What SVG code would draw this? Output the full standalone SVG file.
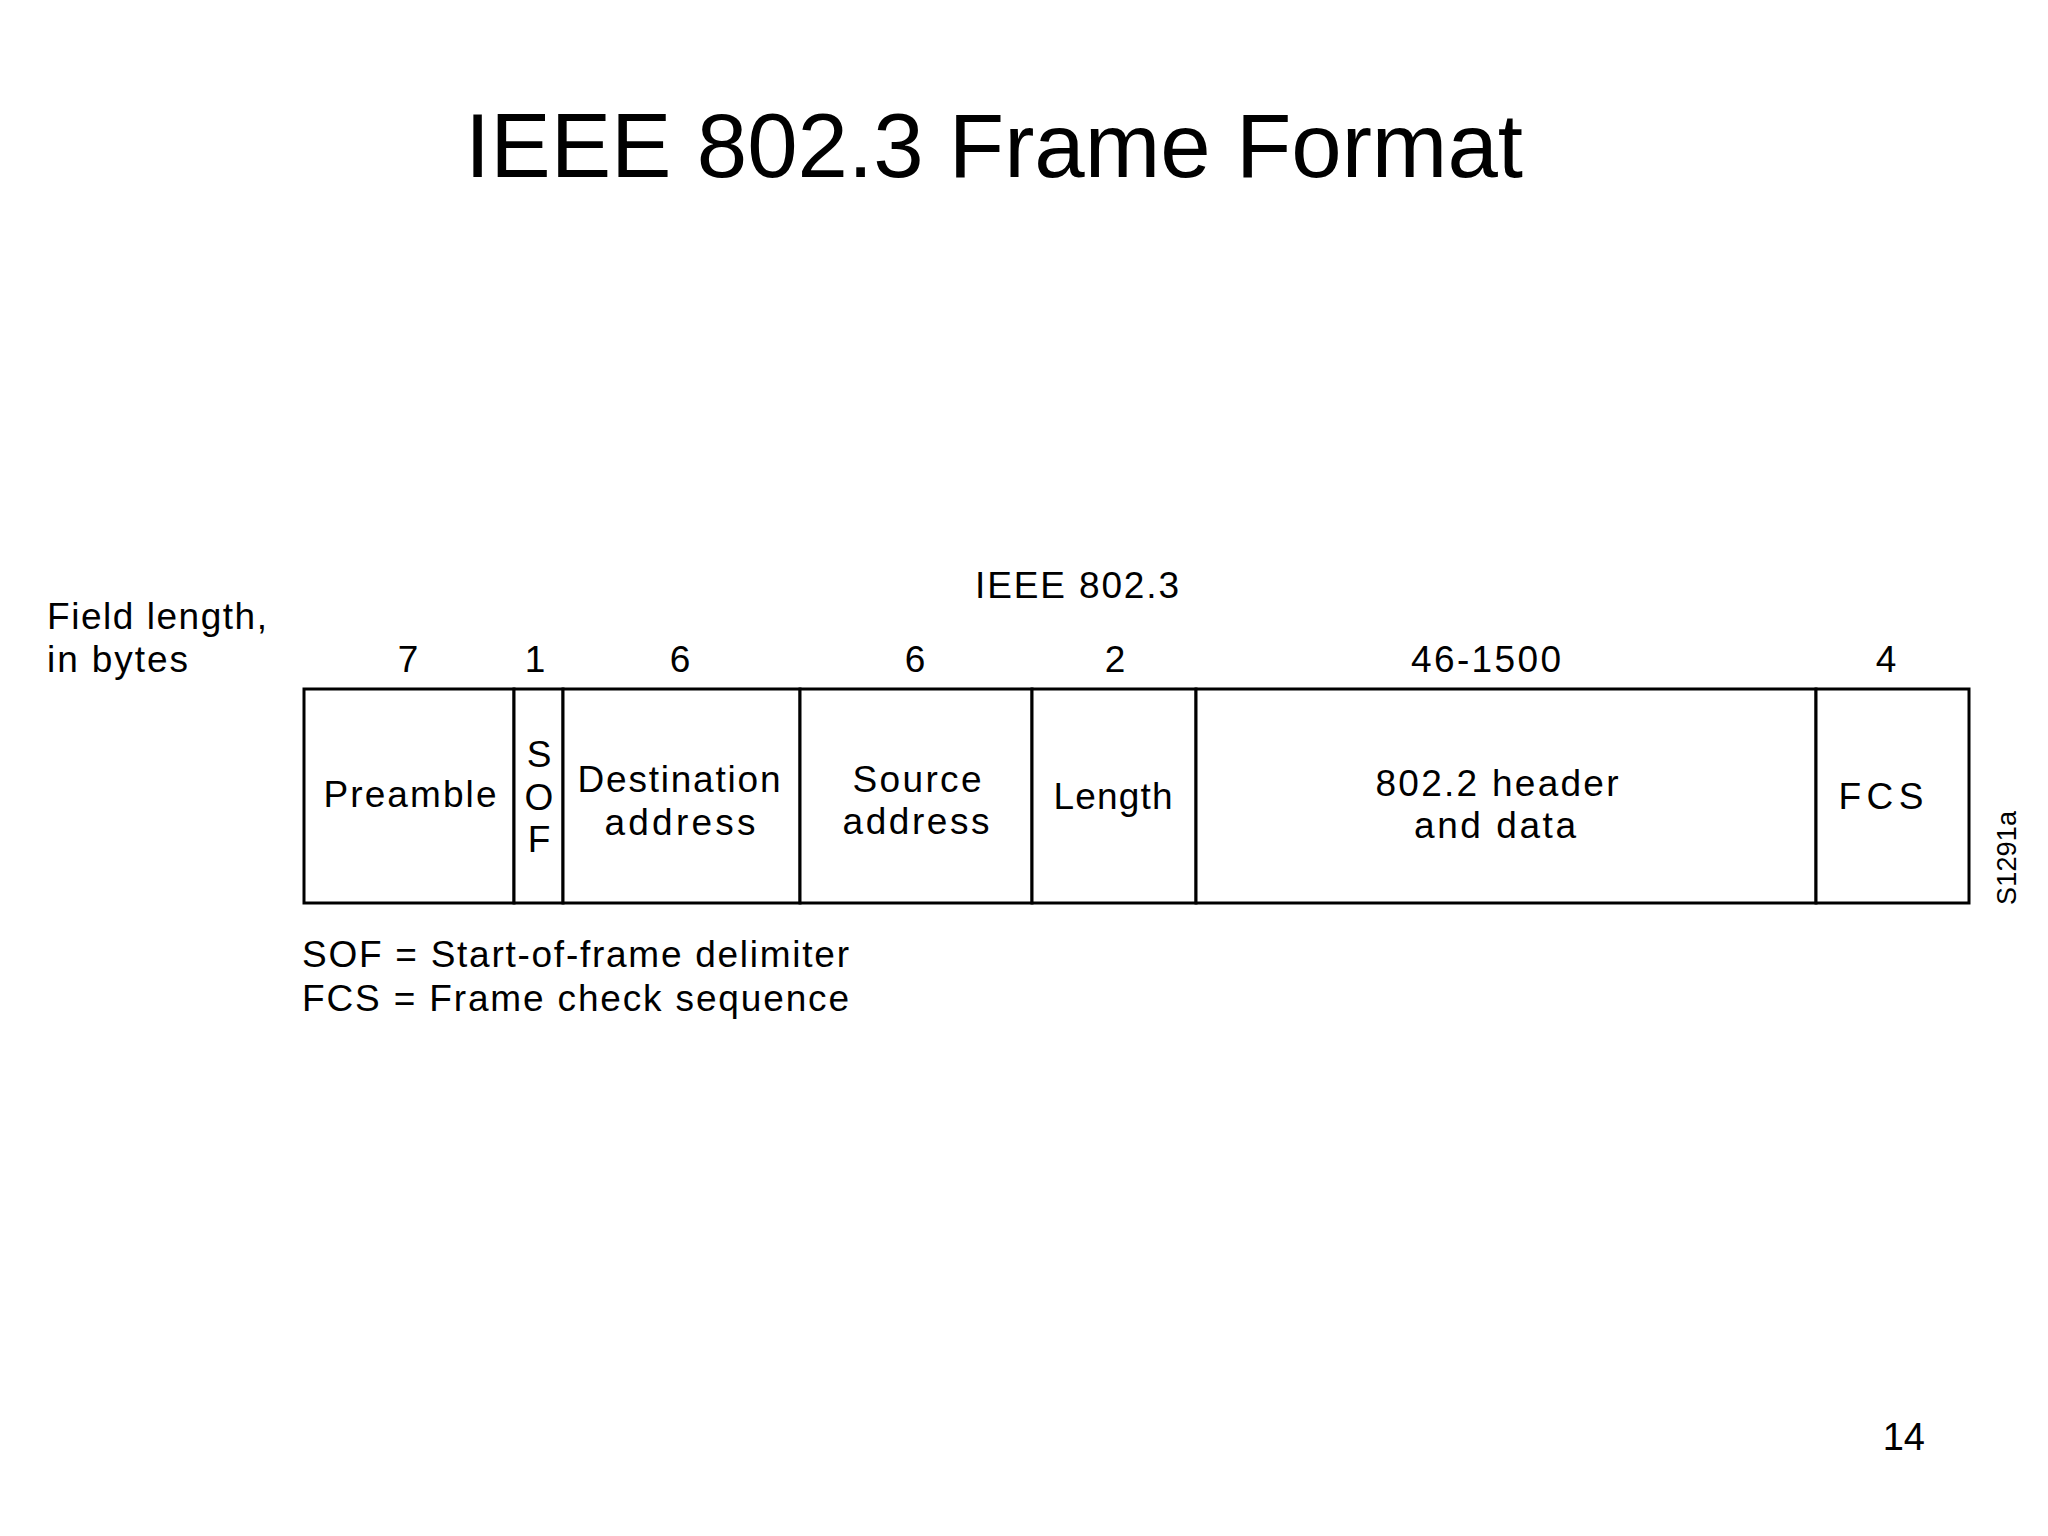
<svg xmlns="http://www.w3.org/2000/svg" width="2048" height="1536" viewBox="0 0 2048 1536">
<style>
text{font-family:"Liberation Sans",Arial,sans-serif;fill:#000}
.t{font-size:37px}
.c{text-anchor:middle}
.cell{fill:#fff;stroke:#000;stroke-width:3}
</style>
<rect width="2048" height="1536" fill="#fff"/>
<text id="title" x="994" y="177" font-size="91" text-anchor="middle" textLength="1058" lengthAdjust="spacingAndGlyphs">IEEE 802.3 Frame Format</text>
<text id="page" x="1925" y="1450" font-size="38" text-anchor="end">14</text>
<g id="labels">
<text class="t" x="47" y="629" textLength="220" lengthAdjust="spacing">Field length,</text>
<text class="t" x="47" y="672" textLength="141" lengthAdjust="spacing">in bytes</text>
<text class="t c" x="1077" y="598" textLength="204" lengthAdjust="spacing">IEEE 802.3</text>
<text class="t c" x="408" y="672">7</text>
<text class="t c" x="535" y="672">1</text>
<text class="t c" x="680" y="672">6</text>
<text class="t c" x="915" y="672">6</text>
<text class="t c" x="1115" y="672">2</text>
<text class="t c" x="1486" y="672" textLength="150" lengthAdjust="spacing">46-1500</text>
<text class="t c" x="1886" y="672">4</text>
</g>
<g id="preamble">
<rect class="cell" x="304" y="689" width="210" height="214"/>
<text class="t c" x="410" y="807" textLength="173" lengthAdjust="spacing">Preamble</text>
</g>
<g id="sof">
<rect class="cell" x="514" y="689" width="49" height="214"/>
<text class="t c" x="539" y="767">S</text>
<text class="t c" x="539" y="810">O</text>
<text class="t c" x="539" y="852">F</text>
</g>
<g id="destination">
<rect class="cell" x="563" y="689" width="237" height="214"/>
<text class="t c" x="679" y="792" textLength="203" lengthAdjust="spacing">Destination</text>
<text class="t c" x="680" y="835" textLength="151" lengthAdjust="spacing">address</text>
</g>
<g id="source">
<rect class="cell" x="800" y="689" width="232" height="214"/>
<text class="t c" x="917" y="792" textLength="129" lengthAdjust="spacing">Source</text>
<text class="t c" x="916" y="834" textLength="147" lengthAdjust="spacing">address</text>
</g>
<g id="length">
<rect class="cell" x="1032" y="689" width="164" height="214"/>
<text class="t c" x="1113" y="809" textLength="119" lengthAdjust="spacing">Length</text>
</g>
<g id="data">
<rect class="cell" x="1196" y="689" width="620" height="214"/>
<text class="t c" x="1497" y="796" textLength="243" lengthAdjust="spacing">802.2 header</text>
<text class="t c" x="1495" y="838" textLength="162" lengthAdjust="spacing">and data</text>
</g>
<g id="fcs">
<rect class="cell" x="1816" y="689" width="153" height="214"/>
<text class="t c" x="1881" y="809" textLength="85" lengthAdjust="spacing">FCS</text>
</g>
<g id="connectors"></g>
<text id="figid" transform="translate(2016,858) rotate(-90)" font-size="27" text-anchor="middle" textLength="94" lengthAdjust="spacing">S1291a</text>
<g id="legend">
<text class="t" x="302" y="967" textLength="547" lengthAdjust="spacing">SOF = Start-of-frame delimiter</text>
<text class="t" x="302" y="1011" textLength="547" lengthAdjust="spacing">FCS = Frame check sequence</text>
</g>
</svg>
